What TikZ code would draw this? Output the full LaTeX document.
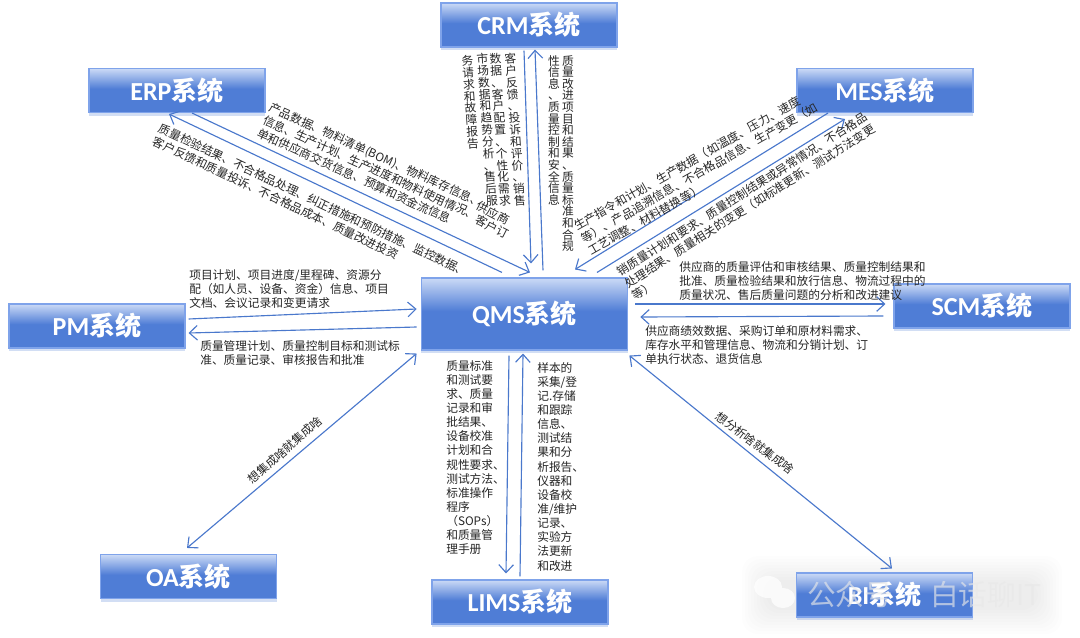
\documentclass[tikz,border=0pt]{standalone}
\usepackage{fontspec}
\setmainfont{Noto Sans CJK SC}
\newfontfamily\latinbold{Carlito}
\usetikzlibrary{calc}
\usetikzlibrary{arrows.meta}
\usetikzlibrary{shadows}
\definecolor{boxblue}{HTML}{4F7DD6}
\definecolor{boxtop}{HTML}{CBDAF6}
\definecolor{boxline}{HTML}{7FA3EA}
\definecolor{linkblue}{HTML}{4A78CC}
\definecolor{notegray}{HTML}{262626}
\pgfdeclareverticalshading{boxfade}{100bp}{color(0bp)=(boxblue); color(25bp)=(boxblue); color(52bp)=(boxblue); color(75bp)=(boxtop); color(100bp)=(boxtop)}
% one column of upright characters
\makeatletter
\newcommand{\vcol}[2]{\vtop{\baselineskip=#1\lineskiplimit=-100pt\@tfor\vc:=#2\do{\hbox to 1.1em{\hss\vc\hss}}}}
\makeatother
\newcommand{\sysname}[1]{{\latinbold\bfseries #1}{\bfseries 系统}}
\tikzset{
 sysbox/.style={draw=boxline, line width=.8pt, shading=boxfade, text=white, inner sep=0pt,
  minimum width=132pt, minimum height=33pt, font=\fontsize{19.5}{22}\selectfont,
  drop shadow={shadow xshift=0pt, shadow yshift=-2.5pt, opacity=.25, fill=boxblue}},
 link/.style={draw=linkblue, line width=.85pt, >={Straight Barb[length=6pt,width=11pt]}},
 note/.style={font=\fontsize{8.8}{10.6}\selectfont, text=notegray, inner sep=0pt, align=left},
 colnote/.style={font=\fontsize{8.8}{9}\selectfont, text=notegray, inner sep=0pt, anchor=north},
 marktext/.style={inner sep=0pt, text=gray!18, opacity=.65, font=\fontsize{21.5}{24}\selectfont}
}
\begin{document}
\begin{tikzpicture}[x=0.75pt,y=-0.75pt]
\useasboundingbox (0,0) rectangle (1080,638);
\fill[white] (0,0) rectangle (1080,638);

% watermark halo
\foreach \g in {0,3,...,24}
 \fill[gray, opacity=.012, rounded corners=12pt] (742+\g,556+\g) rectangle (1062-\g,634-\g);

\node[sysbox] (crm) at (529,25) {\sysname{CRM}};
\node[sysbox] (erp) at (177,90.5) {\sysname{ERP}};
\node[sysbox] (mes) at (885,90.5) {\sysname{MES}};
\node[sysbox, minimum width=155pt, minimum height=54pt] (qms) at (524.5,314) {\sysname{QMS}};
\node[sysbox] (pm) at (97,326) {\sysname{PM}};
\node[sysbox] (scm) at (982,306) {\sysname{SCM}};
\node[sysbox] (oa) at (188.5,576.5) {\sysname{OA}};
\node[sysbox] (lims) at (520,602) {\sysname{LIMS}};
\node[sysbox] (bi) at (884.5,595) {\sysname{BI}};

\draw[link,->] ($(crm.south)+(-5,3)$) -- ($(qms.north)+(6.5,-14)$);
\draw[link,->] ($(qms.north)+(18.5,-7)$) -- ($(crm.south)+(6,2)$);
\draw[link,->] ($(erp.south)+(15,0)$) -- ($(qms.north)+(5.5,-5)$);
\draw[link,->] ($(qms.north)+(-22.5,-5)$) -- ($(erp.south)+(-8,1)$);
\draw[link,->] ($(mes.south)+(-57,0)$) -- ($(qms.north)+(50.5,-8)$);
\draw[link,->] ($(qms.north)+(72.5,-5)$) -- ($(mes.south)+(-40,6)$);
\draw[link,->] ($(qms.east)+(7,-10)$) -- ($(scm.west)+(-8,-2)$);
\draw[link,->] ($(scm.west)+(-10,10)$) -- ($(qms.east)+(12,3)$);
\draw[link,->] ($(pm.east)+(3,-7)$) -- ($(qms.west)+(-4,-5)$);
\draw[link,->] ($(qms.west)+(-4,13)$) -- ($(pm.east)+(3,7)$);
\draw[link,<->] ($(qms.south west)+(-4,3)$) -- ($(oa.north)+(-1.5,-6)$);
\draw[link,<->] ($(qms.south east)+(1,5)$) -- ($(bi.north)+(7.5,-4)$);
\draw[link,->] ($(qms.south)+(-15.5,5)$) -- ($(lims.north)+(-14,-6)$);
\draw[link,->] ($(lims.north)+(0,-3)$) -- ($(qms.south)+(-1.5,3)$);

% CRM
\node[colnote, rotate=3.8] (crm1) at (510,53) {\vcol{8.9pt}{客户反馈、投诉和评价、销售}};
\node[colnote, rotate=3.8] (crm2) at (495,53) {\vcol{8.9pt}{数据、客户配置、个性化需求、}};
\node[colnote, rotate=3.8] (crm3) at (482,53) {\vcol{8.9pt}{市场数据和趋势分析、售后服}};
\node[colnote, rotate=3.8] (crm4) at (467,55) {\vcol{8.9pt}{务请求和故障报告}};
\node[note, rotate=-28] (crm5) at (493,213) {供应商};
\node[note, rotate=-27] (crm6) at (492,227) {客户订};
\node[colnote] (crm7) at (568,55) {\vcol{8.7pt}{质量改进项目和结果、质量标准和合规}};
\node[colnote] (crm8) at (554,55) {\vcol{8.7pt}{性信息、质量控制和安全信息}};

% ERP
\node[note, rotate=-24.5, anchor=north west] (erp1) at (272,101) {产品数据、物料清单(BOM)、物料库存信息、\\信息、生产计划、生产进度和物料使用情况、\\单和供应商交货信息、预算和资金流信息};
\node[note, rotate=-25.3, anchor=north west] (erp2) at (162,122) {质量检验结果、不合格品处理、纠正措施和预防措施、监控数据、\\客户反馈和质量投诉、不合格品成本、质量改进投资};

% MES
\node[note, rotate=29.5, anchor=north west] (mes1) at (572,222) {生产指令和计划、生产数据（如温度、压力、速度\\等）、产品追溯信息、不合格品信息、生产变更（如\\工艺调整、材料替换等）};
\node[note, rotate=32.3, anchor=north west] (mes2) at (615,268) {销质量计划和要求、质量控制结果或异常情况、不合格品\\处理结果、质量相关的变更（如标准更新、测试方法变更\\等）};

% SCM
\node[note, anchor=north west] (scm1) at (679,261) {供应商的质量评估和审核结果、质量控制结果和\\批准、质量检验结果和放行信息、物流过程中的\\质量状况、售后质量问题的分析和改进建议};
\node[note, anchor=north west] (scm2) at (645,325) {供应商绩效数据、采购订单和原材料需求、\\库存水平和管理信息、物流和分销计划、订\\单执行状态、退货信息};

% PM
\node[note, anchor=north west] (pm1) at (189,269) {项目计划、项目进度/里程碑、资源分\\配（如人员、设备、资金）信息、项目\\文档、会议记录和变更请求};
\node[note, anchor=north west] (pm2) at (200,340) {质量管理计划、质量控制目标和测试标\\准、质量记录、审核报告和批准};

% LIMS
\node[note, anchor=north west] (lims1) at (446,360) {质量标准\\和测试要\\求、质量\\记录和审\\批结果、\\设备校准\\计划和合\\规性要求、\\测试方法、\\标准操作\\程序\\（SOPs）\\和质量管\\理手册};
\node[note, anchor=north west] (lims2) at (537,362) {样本的\\采集/登\\记.存储\\和跟踪\\信息、\\测试结\\果和分\\析报告、\\仪器和\\设备校\\准/维护\\记录、\\实验方\\法更新\\和改进};

% OA and BI
\node[note, rotate=41.5] (oa1) at (285,450) {想集成啥就集成啥};
\node[note, rotate=-37] (bi1) at (755,443) {想分析啥就集成啥};

% watermark
\fill[white, opacity=.75] (768,587) ellipse (14 and 11) (783,598) ellipse (12 and 10);
\node[marktext] (mark1) at (850,595) {公众号};
\node[marktext] (mark2) at (986,595) {白话聊IT};
\end{tikzpicture}
\end{document}
